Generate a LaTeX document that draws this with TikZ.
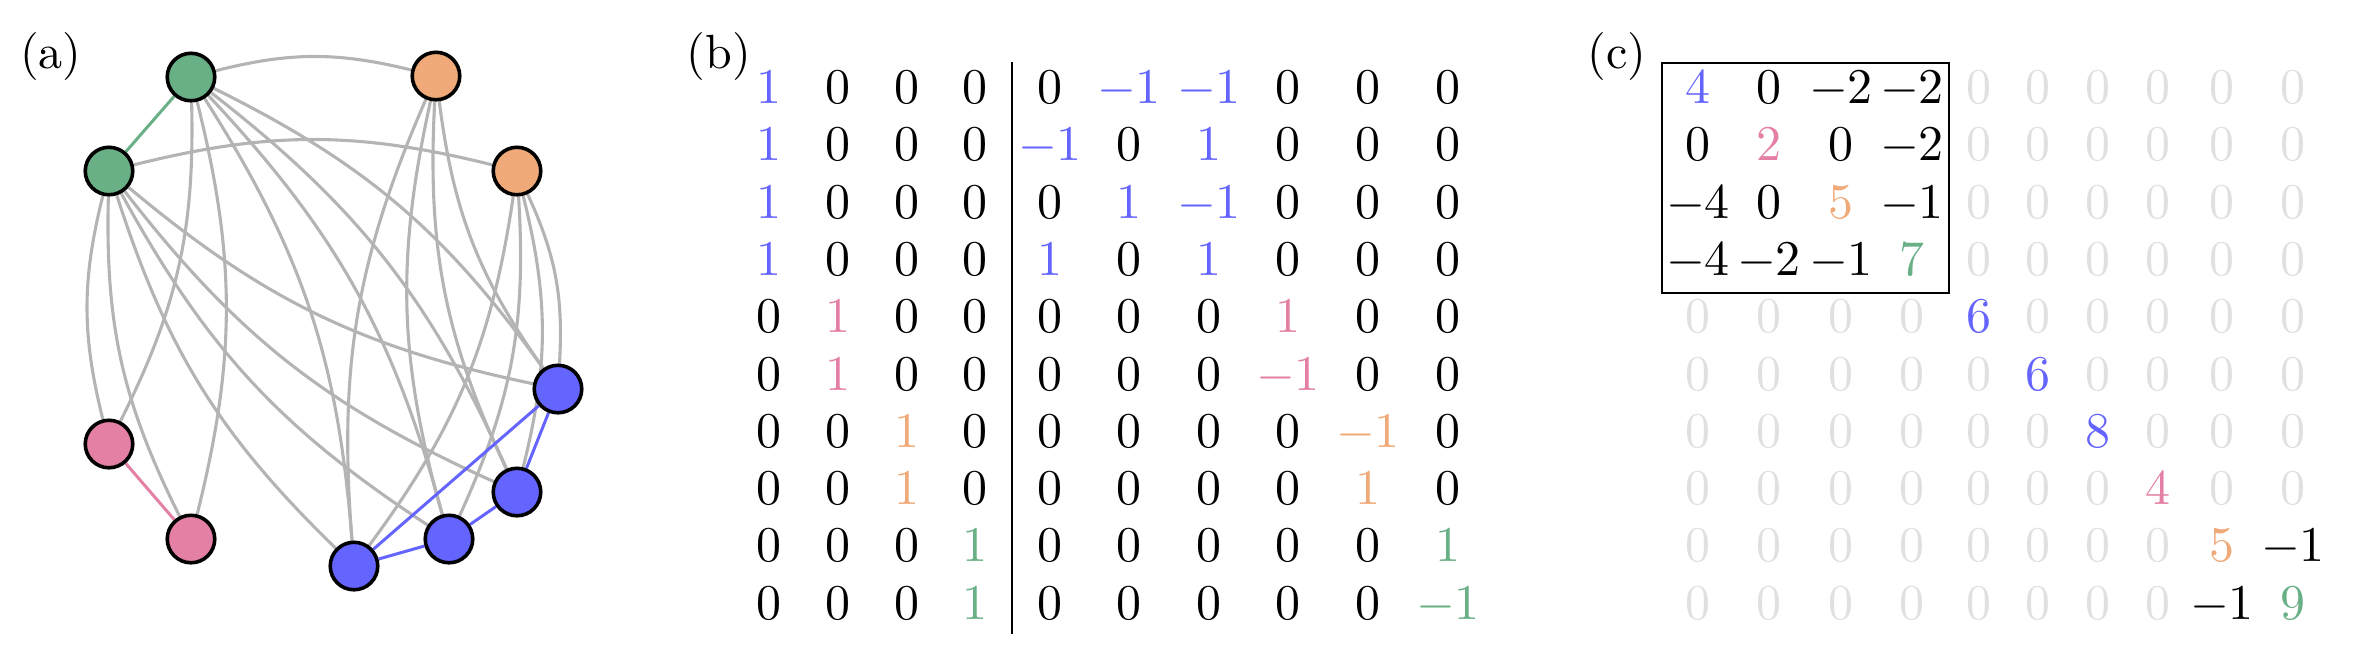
\documentclass[tikz,border=0pt]{standalone}
\usetikzlibrary{backgrounds}
\definecolor{cblue}{RGB}{100,100,255}
\definecolor{cpink}{RGB}{228,128,166}
\definecolor{corange}{RGB}{240,170,122}
\definecolor{cgreen}{RGB}{106,176,134}
\definecolor{cgray}{RGB}{180,180,180}
\definecolor{cz}{RGB}{224,224,224}
\begin{document}
\begin{tikzpicture}[x=0.2pt,y=0.2pt,
  vtx/.style={circle,draw=black,line width=0.72pt,minimum size=9.5pt,inner sep=0pt},
  gedge/.style={draw=cgray,line width=0.62pt},
  cedge/.style={line width=0.6pt},
  entry/.style={anchor=base,inner sep=0pt,font=\fontsize{10}{12}\selectfont},
  lbl/.style={anchor=base,inner sep=0pt,font=\fontsize{9.6}{11}\selectfont}]
\useasboundingbox (0,0) rectangle (2356,-646);
% ---------- panel (a)
\node[lbl] (la) at (51,-68) {(a)};
\node[vtx,fill=cgreen]  (G1) at (191,-77) {};
\node[vtx,fill=corange] (O1) at (436,-76) {};
\node[vtx,fill=cgreen]  (G2) at (109,-171) {};
\node[vtx,fill=corange] (O2) at (517,-171) {};
\node[vtx,fill=cblue]   (B1) at (558,-389) {};
\node[vtx,fill=cpink]   (P1) at (109,-444) {};
\node[vtx,fill=cblue]   (B2) at (517,-492) {};
\node[vtx,fill=cpink]   (P2) at (191,-539) {};
\node[vtx,fill=cblue]   (B3) at (449,-539) {};
\node[vtx,fill=cblue]   (B4) at (354,-566) {};
\begin{scope}[on background layer]
  \draw[gedge] (G1) to[bend left=14] (O1);
  \draw[gedge] (G2) to[bend left=14] (O2);
  \draw[gedge] (G1) to[bend left=14] (P1);
  \draw[gedge] (G1) to[bend left=14] (P2);
  \draw[gedge] (G2) to[bend right=14] (P1);
  \draw[gedge] (G2) to[bend right=14] (P2);
  \foreach \b in {B1,B2,B3,B4} {
    \draw[gedge] (G1) to[bend left=14] (\b);
    \draw[gedge] (G2) to[bend right=14] (\b);
    \draw[gedge] (O1) to[bend right=14] (\b);
    \draw[gedge] (O2) to[bend left=14] (\b);
  }
  \draw[cedge,cgreen] (G1) -- (G2);
  \draw[cedge,cpink] (P1) -- (P2);
  \draw[cedge,cblue] (B4) -- (B3);
  \draw[cedge,cblue] (B3) -- (B2);
  \draw[cedge,cblue] (B2) -- (B1);
  \draw[cedge,cblue] (B1) -- (B4);
\end{scope}
% ---------- panel (b)
\node[lbl] (lb) at (719,-68) {(b)};
\def\bcols{{769,838,907,975,1050,1129,1209,1288,1368,1448}}
\foreach \row [count=\i] in {
 {1/cblue,0/black,0/black,0/black,0/black,-1/cblue,-1/cblue,0/black,0/black,0/black},
 {1/cblue,0/black,0/black,0/black,-1/cblue,0/black,1/cblue,0/black,0/black,0/black},
 {1/cblue,0/black,0/black,0/black,0/black,1/cblue,-1/cblue,0/black,0/black,0/black},
 {1/cblue,0/black,0/black,0/black,1/cblue,0/black,1/cblue,0/black,0/black,0/black},
 {0/black,1/cpink,0/black,0/black,0/black,0/black,0/black,1/cpink,0/black,0/black},
 {0/black,1/cpink,0/black,0/black,0/black,0/black,0/black,-1/cpink,0/black,0/black},
 {0/black,0/black,1/corange,0/black,0/black,0/black,0/black,0/black,-1/corange,0/black},
 {0/black,0/black,1/corange,0/black,0/black,0/black,0/black,0/black,1/corange,0/black},
 {0/black,0/black,0/black,1/cgreen,0/black,0/black,0/black,0/black,0/black,1/cgreen},
 {0/black,0/black,0/black,1/cgreen,0/black,0/black,0/black,0/black,0/black,-1/cgreen}} {
  \foreach \v/\c [count=\j] in \row {
    \pgfmathsetmacro\xx{\bcols[\j-1]}
    \pgfmathsetmacro\yy{-103.5-57.3*(\i-1)}
    \node[entry,text=\c] (b\i-\j) at (\xx,\yy) {$\v$};
  }
}
\coordinate (bartop) at (1011.5,-62);
\coordinate (barbot) at (1011.5,-634);
\draw[line width=0.4pt] (bartop) -- (barbot);
% ---------- panel (c)
\node[lbl] (lc) at (1617,-68) {(c)};
\def\ccols{{1698,1769,1841,1912,1979,2038,2098,2158,2222,2293}}
\foreach \row [count=\i] in {
 {4/cblue,0/black,-2/black,-2/black,0/cz,0/cz,0/cz,0/cz,0/cz,0/cz},
 {0/black,2/cpink,0/black,-2/black,0/cz,0/cz,0/cz,0/cz,0/cz,0/cz},
 {-4/black,0/black,5/corange,-1/black,0/cz,0/cz,0/cz,0/cz,0/cz,0/cz},
 {-4/black,-2/black,-1/black,7/cgreen,0/cz,0/cz,0/cz,0/cz,0/cz,0/cz},
 {0/cz,0/cz,0/cz,0/cz,6/cblue,0/cz,0/cz,0/cz,0/cz,0/cz},
 {0/cz,0/cz,0/cz,0/cz,0/cz,6/cblue,0/cz,0/cz,0/cz,0/cz},
 {0/cz,0/cz,0/cz,0/cz,0/cz,0/cz,8/cblue,0/cz,0/cz,0/cz},
 {0/cz,0/cz,0/cz,0/cz,0/cz,0/cz,0/cz,4/cpink,0/cz,0/cz},
 {0/cz,0/cz,0/cz,0/cz,0/cz,0/cz,0/cz,0/cz,5/corange,-1/black},
 {0/cz,0/cz,0/cz,0/cz,0/cz,0/cz,0/cz,0/cz,-1/black,9/cgreen}} {
  \foreach \v/\c [count=\j] in \row {
    \pgfmathsetmacro\xx{\ccols[\j-1]}
    \pgfmathsetmacro\yy{-103.5-57.3*(\i-1)}
    \node[entry,text=\c] (c\i-\j) at (\xx,\yy) {$\v$};
  }
}
\node[draw=black,line width=0.45pt,inner sep=0pt,minimum width=57.4pt,minimum height=46pt] (cbox) at (1805.5,-178) {};
\end{tikzpicture}
\end{document}
